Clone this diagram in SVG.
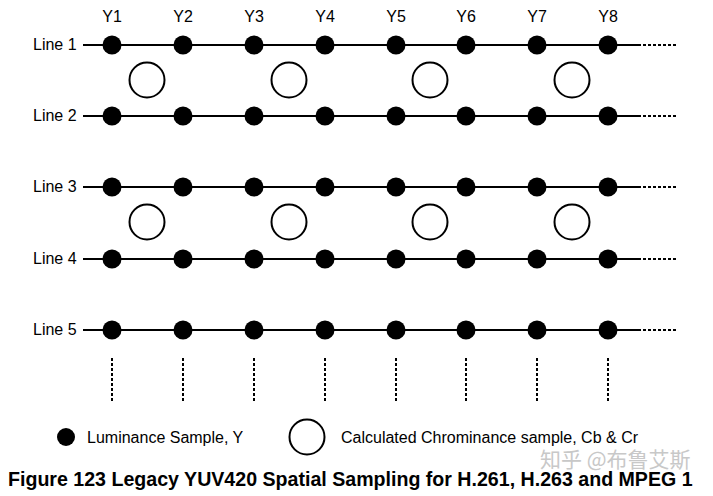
<svg xmlns="http://www.w3.org/2000/svg" width="713" height="496" viewBox="0 0 713 496">
<defs>
<style>
.t{font-family:"Liberation Sans",Arial,sans-serif;font-size:16px;fill:#000}
.ttl{font-family:"Liberation Sans",Arial,sans-serif;font-size:19.6px;font-weight:bold;fill:#000}
.wm{font-family:"Noto Sans CJK SC",sans-serif;font-size:21px;fill:#c8c8c8}
.ln{stroke:#000;stroke-width:2;fill:none}
.dl{stroke:#000;stroke-width:2;stroke-dasharray:3 2;fill:none}
.y{fill:#000}
.c{fill:#fff;stroke:#000;stroke-width:2}
</style>
<circle id="yd" r="9.5" class="y"/>
<circle id="cc" r="17.5" class="c"/>
</defs>
<rect width="713" height="496" fill="#fff"/>
<g id="col-labels" class="t" text-anchor="middle">
<text x="112" y="22">Y1</text><text x="183" y="22">Y2</text><text x="254" y="22">Y3</text><text x="325" y="22">Y4</text>
<text x="396" y="22">Y5</text><text x="466" y="22">Y6</text><text x="537" y="22">Y7</text><text x="608" y="22">Y8</text>
</g>
<g id="connectors">
<path class="ln" d="M83 45H638M83 116H638M83 187H638M83 259H638M83 330H638"/>
<path class="dl" d="M638 45H678M638 116H678M638 187H678M638 259H678M638 330H678"/>
<path class="dl" d="M112 358V402M183 358V402M254 358V402M325 358V402M396 358V402M466 358V402M537 358V402M608 358V402"/>
</g>
<g id="line1"><text class="t" x="33" y="50">Line 1</text>
<use href="#yd" x="112" y="45"/><use href="#yd" x="183" y="45"/><use href="#yd" x="254" y="45"/><use href="#yd" x="325" y="45"/><use href="#yd" x="396" y="45"/><use href="#yd" x="466" y="45"/><use href="#yd" x="537" y="45"/><use href="#yd" x="608" y="45"/></g>
<g id="line2"><text class="t" x="33" y="121">Line 2</text>
<use href="#yd" x="112" y="116"/><use href="#yd" x="183" y="116"/><use href="#yd" x="254" y="116"/><use href="#yd" x="325" y="116"/><use href="#yd" x="396" y="116"/><use href="#yd" x="466" y="116"/><use href="#yd" x="537" y="116"/><use href="#yd" x="608" y="116"/></g>
<g id="line3"><text class="t" x="33" y="192">Line 3</text>
<use href="#yd" x="112" y="187"/><use href="#yd" x="183" y="187"/><use href="#yd" x="254" y="187"/><use href="#yd" x="325" y="187"/><use href="#yd" x="396" y="187"/><use href="#yd" x="466" y="187"/><use href="#yd" x="537" y="187"/><use href="#yd" x="608" y="187"/></g>
<g id="line4"><text class="t" x="33" y="264">Line 4</text>
<use href="#yd" x="112" y="259"/><use href="#yd" x="183" y="259"/><use href="#yd" x="254" y="259"/><use href="#yd" x="325" y="259"/><use href="#yd" x="396" y="259"/><use href="#yd" x="466" y="259"/><use href="#yd" x="537" y="259"/><use href="#yd" x="608" y="259"/></g>
<g id="line5"><text class="t" x="33" y="335">Line 5</text>
<use href="#yd" x="112" y="330"/><use href="#yd" x="183" y="330"/><use href="#yd" x="254" y="330"/><use href="#yd" x="325" y="330"/><use href="#yd" x="396" y="330"/><use href="#yd" x="466" y="330"/><use href="#yd" x="537" y="330"/><use href="#yd" x="608" y="330"/></g>
<g id="chroma-row1"><use href="#cc" x="147" y="80"/><use href="#cc" x="289" y="80"/><use href="#cc" x="430" y="80"/><use href="#cc" x="572" y="80"/></g>
<g id="chroma-row2"><use href="#cc" x="147" y="222"/><use href="#cc" x="289" y="222"/><use href="#cc" x="430" y="222"/><use href="#cc" x="572" y="222"/></g>
<g id="legend">
<circle cx="66" cy="437" r="9" class="y"/>
<text class="t" x="87" y="443">Luminance Sample, Y</text>
<circle cx="307" cy="437" r="17.5" class="c"/>
<text class="t" x="341" y="443">Calculated Chrominance sample, Cb &amp; Cr</text>
</g>
<text class="wm" x="540" y="467">知乎 @布鲁艾斯</text>
<text class="ttl" x="8" y="486">Figure 123 Legacy YUV420 Spatial Sampling for H.261, H.263 and MPEG 1</text>
</svg>
